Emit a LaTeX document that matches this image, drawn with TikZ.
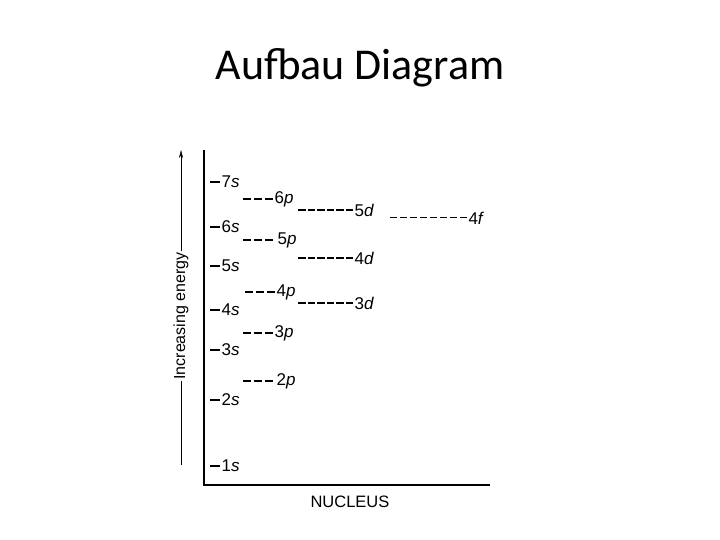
\documentclass[tikz,border=0pt]{standalone}
\usepackage{fontspec}
\setmainfont{Liberation Sans}
\newfontfamily\titlefont{Carlito}
\usetikzlibrary{arrows.meta}

\begin{document}
\begin{tikzpicture}[x=1pt,y=-1pt,
	every node/.style={font=\fontsize{16}{18}\selectfont,inner sep=1pt},
	lbl/.style={right,font=\fontsize{17}{19}\selectfont},
	axis/.style={line width=1.2pt},
	slevel/.style={line width=1.4pt},
	plevel/.style={line width=1.3pt,dash pattern=on 8pt off 3pt},
	dlevel/.style={line width=1.4pt,dash pattern=on 7.5pt off 2pt},
	flevel/.style={line width=1pt,dash pattern=on 7pt off 3pt}]
\useasboundingbox (0,0) rectangle (720,540);
% title
\node (title) at (360,68) {\titlefont\fontsize{44}{52}\selectfont Aufbau Diagram};
% axes
\coordinate (O) at (204,485);
\coordinate (ytop) at (204,150);
\coordinate (xend) at (490,485);
\draw[axis] (ytop)--(O)--(xend);
\node[font=\fontsize{16.5}{18}\selectfont] (nucleus) at (350,502) {NUCLEUS};
\node[rotate=90] (energy) at (181,316) {Increasing energy};
\coordinate (ebot) at (181,465);
\coordinate (etop) at (181,150);
\draw (ebot)--(energy.west);
\draw[-{Stealth[length=8pt,width=4pt]}] (energy.east)--(etop);
% s levels
\draw[slevel] (210,182)--(220,182) node[lbl] (s7) {7\textit{s}};
\draw[slevel] (210,227)--(220,227) node[lbl] (s6) {6\textit{s}};
\draw[slevel] (210,266)--(220,266) node[lbl] (s5) {5\textit{s}};
\draw[slevel] (210,310)--(220,310) node[lbl] (s4) {4\textit{s}};
\draw[slevel] (210,350)--(220,350) node[lbl] (s3) {3\textit{s}};
\draw[slevel] (210,400)--(220,400) node[lbl] (s2) {2\textit{s}};
\draw[slevel] (210,466)--(220,466) node[lbl] (s1) {1\textit{s}};
% p levels
\draw[plevel] (243,199)--(273,199) node[lbl] (p6) {6\textit{p}};
\draw[plevel] (243,240)--(273,240) node[lbl,xshift=3pt] (p5) {5\textit{p}};
\draw[plevel] (245,292)--(275,292) node[lbl] (p4) {4\textit{p}};
\draw[plevel] (243,333)--(273,333) node[lbl] (p3) {3\textit{p}};
\draw[plevel] (243,381)--(273,381) node[lbl,xshift=2pt] (p2) {2\textit{p}};
% d levels
\draw[dlevel] (298,210)--(353,210) node[lbl] (d5) {5\textit{d}};
\draw[dlevel] (298,258)--(353,258) node[lbl] (d4) {4\textit{d}};
\draw[dlevel] (298,303)--(353,303) node[lbl] (d3) {3\textit{d}};
% f level
\draw[flevel] (390,218)--(467,218) node[lbl] (f4) {4\textit{f}};
\end{tikzpicture}
\end{document}
